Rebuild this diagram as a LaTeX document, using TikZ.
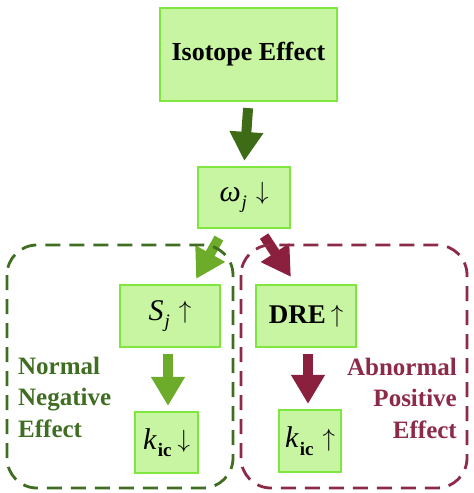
\documentclass[tikz,border=0pt]{standalone}
\usepackage{fontspec}
\setmainfont{Liberation Serif}
\usetikzlibrary{arrows.meta,calc}
\definecolor{boxfill}{HTML}{C8F5A2}
\definecolor{boxline}{HTML}{7EE63E}
\definecolor{dkgreen}{HTML}{3E6C16}
\definecolor{ltgreen}{HTML}{6DAC2A}
\definecolor{dkred}{HTML}{8A1F3E}
\definecolor{lblgreen}{HTML}{3F6E22}
\definecolor{lblred}{HTML}{8C2A48}
\newcommand{\subtxt}[1]{\hspace{1pt}\raisebox{-0.55ex}{\fontsize{19}{19}\selectfont #1}}
\newcommand{\arr}[1]{\hspace{9pt}\raisebox{0.1ex}{\fontsize{33}{33}\selectfont$#1$}}
\begin{document}
\begin{tikzpicture}[x=1pt,y=-1pt,
  gbox/.style={draw=boxline,fill=boxfill,line width=2.2pt,inner sep=0pt,font=\fontsize{30}{32}\selectfont},
  fatarrow/.style={line width=10pt,-{Triangle[length=29pt,width=32pt]},shorten <=6pt,shorten >=5pt},
  dashbox/.style={line width=2.8pt,dash pattern=on 15pt off 9pt,rounded corners=30pt},
  lbl/.style={font=\bfseries\fontsize{25}{31.5}\selectfont,inner sep=0pt}]
\useasboundingbox (0,0) rectangle (474,493);
% nodes
\node[gbox,minimum width=177pt,minimum height=93pt,font=\fontsize{26}{28}\selectfont] (iso) at (248.5,54.5) {\textbf{Isotope Effect}};
\node[gbox,minimum width=92pt,minimum height=61pt] (omega) at (244,197.5) {\textit{ω}\subtxt{\textit{j}}\arr{\downarrow}};
\node[gbox,minimum width=100pt,minimum height=62pt] (sj) at (170,316) {\textit{S}\subtxt{\textit{j}}\arr{\uparrow}};
\node[gbox,minimum width=63pt,minimum height=61pt] (kicL) at (166.5,442.5) {\textit{k}\subtxt{\textbf{ic}}\hspace{-3pt}\arr{\downarrow}};
\node[gbox,minimum width=100pt,minimum height=62pt,font=\fontsize{27}{30}\selectfont] (dre) at (306,316) {\textbf{DRE}\hspace{-4pt}\arr{\uparrow}};
\node[gbox,minimum width=62pt,minimum height=62pt] (kicR) at (310,441) {\textit{k}\subtxt{\textbf{ic}}\arr{\uparrow}};
% arrows
\coordinate (sjs) at ($(sj.south)+(-2,0)$);
\coordinate (dres) at ($(dre.south)+(2,0)$);
\draw[fatarrow,dkgreen] (iso.south) -- (omega.north);
\draw[fatarrow,ltgreen,shorten <=0pt,shorten >=0pt] ($(omega.south west)+(22,9)$) -- ($(sj.north east)+(-25,-5)$);
\draw[fatarrow,dkred,shorten <=0pt,shorten >=0pt] ($(omega.south east)+(-27,7)$) -- ($(dre.north west)+(36,-7)$);
\draw[fatarrow,ltgreen] (sjs) -- (sjs |- kicL.north);
\draw[fatarrow,dkred] (dres) -- (dres |- kicR.north);
% dashed groups
\draw[dashbox,lblgreen] (7,245) rectangle (233,488);
\draw[dashbox,lblred] (241,245) rectangle (467,488);
% labels
\node[lbl,lblgreen,anchor=west,align=left] (lblL) at (18,397) {Normal\\Negative\\Effect};
\node[lbl,lblred,anchor=east,align=right] (lblR) at (457,398) {Abnormal\\Positive\\Effect};
\end{tikzpicture}
\end{document}
